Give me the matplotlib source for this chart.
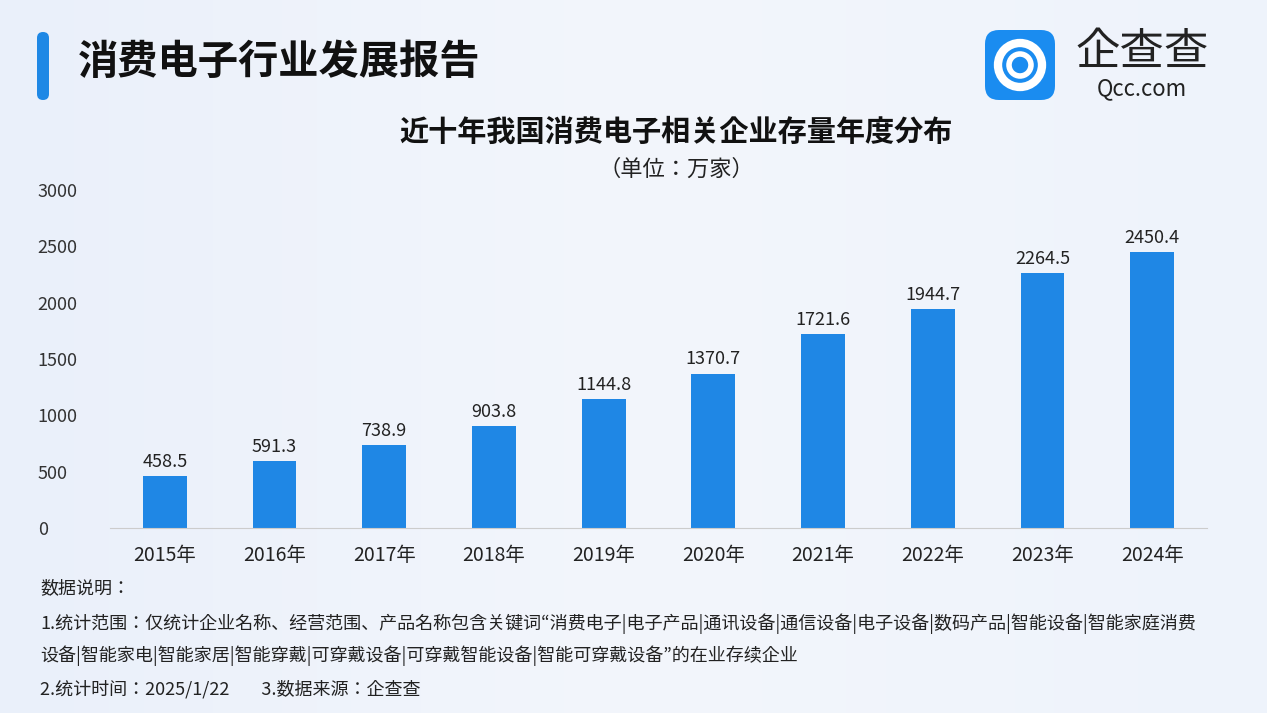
import matplotlib.pyplot as plt
import numpy as np
from matplotlib import font_manager
from matplotlib.patches import FancyBboxPatch, Circle

# pick a sans CJK family that matplotlib actually registered
cjk = sorted({f.name for f in font_manager.fontManager.ttflist
              if 'CJK' in f.name and 'Sans' in f.name})
pref = [n for n in ['Noto Sans CJK SC', 'Noto Sans CJK JP', 'Noto Sans CJK TC'] if n in cjk]
cjk_name = pref[0] if pref else (cjk[0] if cjk else 'DejaVu Sans')
plt.rcParams['font.family'] = 'sans-serif'
plt.rcParams['font.sans-serif'] = [cjk_name, 'DejaVu Sans']

years = ['2015年', '2016年', '2017年', '2018年', '2019年',
         '2020年', '2021年', '2022年', '2023年', '2024年']
counts = [458.5, 591.3, 738.9, 903.8, 1144.8, 1370.7, 1721.6, 1944.7, 2264.5, 2450.4]
yticks = [0, 500, 1000, 1500, 2000, 2500, 3000]

W, H = 1267, 713
fig = plt.figure(figsize=(W / 100, H / 100), dpi=100)

# soft background gradient
bg = fig.add_axes([0, 0, 1, 1])
grad = np.linspace(0, 1, 256).reshape(1, -1)
bg.imshow(grad, cmap=plt.matplotlib.colors.LinearSegmentedColormap.from_list(
    'bg', ['#eaf0fa', '#f3f6fc', '#eef3fb']), aspect='auto', extent=[0, W, 0, H])
bg.set_xlim(0, W)
bg.set_ylim(H, 0)
bg.axis('off')

# header
bg.add_patch(FancyBboxPatch((37, 32), 12, 68, boxstyle='round,pad=0,rounding_size=6',
                            color='#1e88e5', lw=0))
bg.text(78, 62, '消费电子行业发展报告', fontsize=29, fontweight='bold',
        va='center', ha='left', color='#111111')

# logo
bg.add_patch(FancyBboxPatch((985, 30), 70, 70, boxstyle='round,pad=0,rounding_size=14',
                            color='#1a8cf0', lw=0))
bg.add_patch(Circle((1020, 65), 22, fill=False, ec='white', lw=6))
bg.add_patch(Circle((1020, 65), 11, fill=False, ec='white', lw=4))
bg.text(1142, 52, '企查查', fontsize=32, ha='center', va='center', color='#222222')
bg.text(1142, 89, 'Qcc.com', fontsize=16, ha='center', va='center', color='#222222')

# chart titles
bg.text(676, 132, '近十年我国消费电子相关企业存量年度分布', fontsize=21,
        fontweight='bold', ha='center', va='center', color='#111111')
bg.text(676, 169, '（单位：万家）', fontsize=16, ha='center', va='center', color='#222222')

# notes
notes = [
    (588, '数据说明：'),
    (624, '1.统计范围：仅统计企业名称、经营范围、产品名称包含关键词“消费电子|电子产品|通讯设备|通信设备|电子设备|数码产品|智能设备|智能家庭消费'),
    (656, '设备|智能家电|智能家居|智能穿戴|可穿戴设备|可穿戴智能设备|智能可穿戴设备”的在业存续企业'),
    (689, '2.统计时间：2025/1/22        3.数据来源：企查查'),
]
for y, t in notes:
    bg.text(40, y, t, fontsize=13, ha='left', va='center', color='#222222')

# bar chart
ax = fig.add_axes([110 / W, 1 - 528 / H, 1097 / W, 338 / H])
ax.patch.set_alpha(0)
x = np.arange(len(years))
ax.bar(x, counts, width=0.4, color='#1f87e5')
for xi, v in zip(x, counts):
    ax.text(xi, v + 45, f'{v:.1f}', ha='center', va='bottom', fontsize=13, color='#222222')
ax.set_xlim(-0.5, len(years) - 0.5)
ax.set_ylim(0, 3000)
ax.set_yticks(yticks)
ax.set_yticklabels([str(t) for t in yticks], fontsize=13, color='#333333')
ax.set_xticks(x)
ax.set_xticklabels(years, fontsize=14, color='#222222')
for s in ['top', 'right', 'left']:
    ax.spines[s].set_visible(False)
ax.spines['bottom'].set_color('#cccccc')
ax.tick_params(axis='both', length=0, pad=12)
ax.tick_params(axis='y', pad=52)
for lab in ax.get_yticklabels():
    lab.set_horizontalalignment('left')

fig.savefig('out.png', dpi=100)
